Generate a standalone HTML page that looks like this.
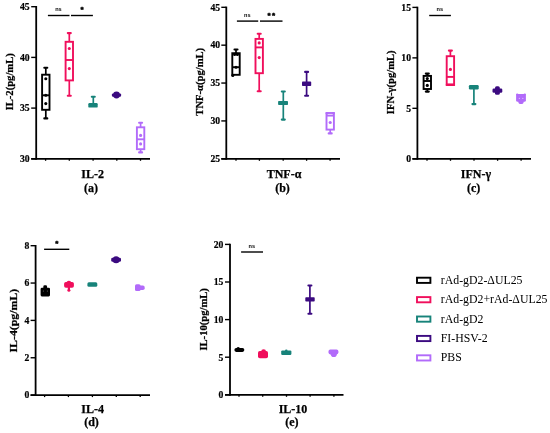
<!DOCTYPE html>
<html><head><meta charset="utf-8"><title>Figure</title>
<style>
html,body{margin:0;padding:0;background:#fff;}
body{width:550px;height:433px;overflow:hidden;}
svg{display:block;}
text{font-family:"Liberation Serif","DejaVu Serif",serif;fill:#000;}
.tk{font-size:9.7px;font-weight:bold;stroke:#000;stroke-width:.2px;}
.tt{font-size:12px;font-weight:bold;stroke:#000;stroke-width:.25px;}
.yl{font-size:10.6px;font-weight:bold;stroke:#000;stroke-width:.25px;}
.lg{font-size:11.8px;}
.ns{font-family:"Liberation Sans","DejaVu Sans",sans-serif;font-size:5.6px;font-weight:bold;}
.st{font-family:"Liberation Sans","DejaVu Sans",sans-serif;font-size:8px;font-weight:bold;stroke:#000;stroke-width:.5px;}
</style></head><body>
<svg width="550" height="433" viewBox="0 0 550 433">
<rect width="550" height="433" fill="#fff"/>
<g id="panel-a">
<line x1="36.2" y1="6" x2="36.2" y2="159.7" stroke="#000" stroke-width="1.8"/>
<line x1="31.2" y1="158.8" x2="150" y2="158.8" stroke="#000" stroke-width="1.8"/>
<line x1="31.2" y1="6.7" x2="36.2" y2="6.7" stroke="#000" stroke-width="1.4"/>
<text x="29.6" y="10" text-anchor="end" class="tk">45</text>
<line x1="31.2" y1="57.4" x2="36.2" y2="57.4" stroke="#000" stroke-width="1.4"/>
<text x="29.6" y="60.7" text-anchor="end" class="tk">40</text>
<line x1="31.2" y1="108.1" x2="36.2" y2="108.1" stroke="#000" stroke-width="1.4"/>
<text x="29.6" y="111.4" text-anchor="end" class="tk">35</text>
<line x1="31.2" y1="158.8" x2="36.2" y2="158.8" stroke="#000" stroke-width="1.4"/>
<text x="29.6" y="162.1" text-anchor="end" class="tk">30</text>
<line x1="45.6" y1="158.8" x2="45.6" y2="160.8" stroke="#000" stroke-width="1.3"/>
<line x1="69.3" y1="158.8" x2="69.3" y2="160.8" stroke="#000" stroke-width="1.3"/>
<line x1="93.1" y1="158.8" x2="93.1" y2="160.8" stroke="#000" stroke-width="1.3"/>
<line x1="116.8" y1="158.8" x2="116.8" y2="160.8" stroke="#000" stroke-width="1.3"/>
<line x1="140.5" y1="158.8" x2="140.5" y2="160.8" stroke="#000" stroke-width="1.3"/>
<text transform="translate(12.8,81.8) rotate(-90)" text-anchor="middle" class="yl">IL-2(pg/mL)</text>
<line x1="47.9" y1="15.5" x2="69.5" y2="15.5" stroke="#000" stroke-width="1.4"/>
<text x="58.4" y="11" text-anchor="middle" class="ns">ns</text>
<line x1="71" y1="15.5" x2="92.9" y2="15.5" stroke="#000" stroke-width="1.4"/>
<text x="81.95" y="11.9" text-anchor="middle" class="st">*</text>
<line x1="45.8" y1="67.8" x2="45.8" y2="74.7" stroke="#000000" stroke-width="1.7"/>
<line x1="44.3" y1="67.8" x2="47.3" y2="67.8" stroke="#000000" stroke-width="2.1" stroke-linecap="round"/>
<line x1="45.8" y1="109.8" x2="45.8" y2="118.4" stroke="#000000" stroke-width="1.7"/>
<line x1="44.3" y1="118.4" x2="47.3" y2="118.4" stroke="#000000" stroke-width="2.1" stroke-linecap="round"/>
<rect x="42.1" y="74.7" width="7.4" height="35.1" fill="#fff" stroke="#000000" stroke-width="1.9"/>
<line x1="42.1" y1="95.3" x2="49.5" y2="95.3" stroke="#000000" stroke-width="1.9"/>
<circle cx="45.8" cy="78.8" r="1.55" fill="#000000"/>
<circle cx="45.8" cy="95.3" r="1.55" fill="#000000"/>
<circle cx="45.8" cy="103.6" r="1.55" fill="#000000"/>
<line x1="69.3" y1="33.1" x2="69.3" y2="41.8" stroke="#F00F5C" stroke-width="1.7"/>
<line x1="67.8" y1="33.1" x2="70.8" y2="33.1" stroke="#F00F5C" stroke-width="2.1" stroke-linecap="round"/>
<line x1="69.3" y1="80.4" x2="69.3" y2="95.8" stroke="#F00F5C" stroke-width="1.7"/>
<line x1="67.8" y1="95.8" x2="70.8" y2="95.8" stroke="#F00F5C" stroke-width="2.1" stroke-linecap="round"/>
<rect x="65.6" y="41.8" width="7.4" height="38.6" fill="#fff" stroke="#F00F5C" stroke-width="1.9"/>
<line x1="65.6" y1="60" x2="73" y2="60" stroke="#F00F5C" stroke-width="1.9"/>
<circle cx="69.3" cy="48.5" r="1.55" fill="#F00F5C"/>
<circle cx="69.3" cy="68.6" r="1.55" fill="#F00F5C"/>
<line x1="93.3" y1="96.8" x2="93.3" y2="103.5" stroke="#17837A" stroke-width="1.7"/>
<line x1="91.8" y1="96.8" x2="94.8" y2="96.8" stroke="#17837A" stroke-width="2.1" stroke-linecap="round"/>
<rect x="88.3" y="103" width="9.4" height="4.6" rx="1.2" fill="#17837A"/>
<rect x="111.9" y="93.4" width="9.2" height="3.3" rx="1.2" fill="#3B0A80"/>
<circle cx="116.5" cy="95" r="3.4" fill="#3B0A80"/>
<line x1="140.6" y1="122.7" x2="140.6" y2="127.3" stroke="#B26BFA" stroke-width="1.7"/>
<line x1="139.1" y1="122.7" x2="142.1" y2="122.7" stroke="#B26BFA" stroke-width="2.1" stroke-linecap="round"/>
<line x1="140.6" y1="149.2" x2="140.6" y2="152.4" stroke="#B26BFA" stroke-width="1.7"/>
<line x1="139.1" y1="152.4" x2="142.1" y2="152.4" stroke="#B26BFA" stroke-width="2.1" stroke-linecap="round"/>
<rect x="136.9" y="127.3" width="7.4" height="21.9" fill="#fff" stroke="#B26BFA" stroke-width="1.9"/>
<line x1="136.9" y1="139.3" x2="144.3" y2="139.3" stroke="#B26BFA" stroke-width="1.9"/>
<circle cx="140.6" cy="135.4" r="1.55" fill="#B26BFA"/>
<circle cx="140.6" cy="143.9" r="1.55" fill="#B26BFA"/>
<text x="92.6" y="177.6" text-anchor="middle" class="tt">IL-2</text>
<text x="91" y="191.6" text-anchor="middle" class="tt">(a)</text>
</g>
<g id="panel-b">
<line x1="226.3" y1="6.6" x2="226.3" y2="159.7" stroke="#000" stroke-width="1.8"/>
<line x1="221.3" y1="158.8" x2="340" y2="158.8" stroke="#000" stroke-width="1.8"/>
<line x1="221.3" y1="7.3" x2="226.3" y2="7.3" stroke="#000" stroke-width="1.4"/>
<text x="220.2" y="10.6" text-anchor="end" class="tk">45</text>
<line x1="221.3" y1="45.17" x2="226.3" y2="45.17" stroke="#000" stroke-width="1.4"/>
<text x="220.2" y="48.47" text-anchor="end" class="tk">40</text>
<line x1="221.3" y1="83.05" x2="226.3" y2="83.05" stroke="#000" stroke-width="1.4"/>
<text x="220.2" y="86.35" text-anchor="end" class="tk">35</text>
<line x1="221.3" y1="120.92" x2="226.3" y2="120.92" stroke="#000" stroke-width="1.4"/>
<text x="220.2" y="124.22" text-anchor="end" class="tk">30</text>
<line x1="221.3" y1="158.8" x2="226.3" y2="158.8" stroke="#000" stroke-width="1.4"/>
<text x="220.2" y="162.1" text-anchor="end" class="tk">25</text>
<line x1="236" y1="158.8" x2="236" y2="160.8" stroke="#000" stroke-width="1.3"/>
<line x1="259.4" y1="158.8" x2="259.4" y2="160.8" stroke="#000" stroke-width="1.3"/>
<line x1="283.2" y1="158.8" x2="283.2" y2="160.8" stroke="#000" stroke-width="1.3"/>
<line x1="306.6" y1="158.8" x2="306.6" y2="160.8" stroke="#000" stroke-width="1.3"/>
<line x1="330.1" y1="158.8" x2="330.1" y2="160.8" stroke="#000" stroke-width="1.3"/>
<text transform="translate(203,81.8) rotate(-90)" text-anchor="middle" class="yl">TNF-α(pg/mL)</text>
<line x1="236.9" y1="21.1" x2="258.2" y2="21.1" stroke="#000" stroke-width="1.4"/>
<text x="247.25" y="16.6" text-anchor="middle" class="ns">ns</text>
<line x1="260" y1="21.1" x2="282.5" y2="21.1" stroke="#000" stroke-width="1.4"/>
<text x="272.05" y="18.1" text-anchor="middle" class="st" style="letter-spacing:1.5px">**</text>
<line x1="236" y1="49.5" x2="236" y2="53.2" stroke="#000000" stroke-width="1.7"/>
<line x1="234.5" y1="49.5" x2="237.5" y2="49.5" stroke="#000000" stroke-width="2.1" stroke-linecap="round"/>
<rect x="232.3" y="53.2" width="7.4" height="21.6" fill="#fff" stroke="#000000" stroke-width="1.9"/>
<line x1="232.3" y1="67.2" x2="239.7" y2="67.2" stroke="#000000" stroke-width="1.9"/>
<circle cx="234.6" cy="54.4" r="1.55" fill="#000000"/>
<circle cx="237.4" cy="54.4" r="1.55" fill="#000000"/>
<circle cx="236" cy="67.2" r="1.55" fill="#000000"/>
<circle cx="232.8" cy="75.4" r="1.55" fill="#000000"/>
<line x1="259.2" y1="33.7" x2="259.2" y2="38.9" stroke="#F00F5C" stroke-width="1.7"/>
<line x1="257.7" y1="33.7" x2="260.7" y2="33.7" stroke="#F00F5C" stroke-width="2.1" stroke-linecap="round"/>
<line x1="259.2" y1="73.2" x2="259.2" y2="91.2" stroke="#F00F5C" stroke-width="1.7"/>
<line x1="257.7" y1="91.2" x2="260.7" y2="91.2" stroke="#F00F5C" stroke-width="2.1" stroke-linecap="round"/>
<rect x="255.5" y="38.9" width="7.4" height="34.3" fill="#fff" stroke="#F00F5C" stroke-width="1.9"/>
<line x1="255.5" y1="47.4" x2="262.9" y2="47.4" stroke="#F00F5C" stroke-width="1.9"/>
<circle cx="259.2" cy="42.9" r="1.55" fill="#F00F5C"/>
<circle cx="259.2" cy="57.6" r="1.55" fill="#F00F5C"/>
<line x1="283.3" y1="91.5" x2="283.3" y2="119.6" stroke="#17837A" stroke-width="1.7"/>
<line x1="281.8" y1="91.5" x2="284.8" y2="91.5" stroke="#17837A" stroke-width="2.1" stroke-linecap="round"/>
<line x1="281.8" y1="119.6" x2="284.8" y2="119.6" stroke="#17837A" stroke-width="2.1" stroke-linecap="round"/>
<rect x="278.1" y="101" width="9.9" height="4.1" rx="0.8" fill="#17837A"/>
<line x1="306.6" y1="71.9" x2="306.6" y2="95.8" stroke="#3B0A80" stroke-width="1.7"/>
<line x1="305.1" y1="71.9" x2="308.1" y2="71.9" stroke="#3B0A80" stroke-width="2.1" stroke-linecap="round"/>
<line x1="305.1" y1="95.8" x2="308.1" y2="95.8" stroke="#3B0A80" stroke-width="2.1" stroke-linecap="round"/>
<rect x="302" y="81.6" width="9.2" height="4.4" rx="0.8" fill="#3B0A80"/>
<line x1="330.2" y1="129.6" x2="330.2" y2="133.4" stroke="#B26BFA" stroke-width="1.7"/>
<line x1="328.7" y1="133.4" x2="331.7" y2="133.4" stroke="#B26BFA" stroke-width="2.1" stroke-linecap="round"/>
<rect x="326.5" y="113" width="7.4" height="16.6" fill="#fff" stroke="#B26BFA" stroke-width="1.9"/>
<line x1="326.5" y1="115.6" x2="333.9" y2="115.6" stroke="#B26BFA" stroke-width="1.9"/>
<circle cx="330.2" cy="122.5" r="1.55" fill="#B26BFA"/>
<circle cx="327" cy="113.2" r="1.3" fill="#B26BFA"/>
<circle cx="333.4" cy="113.2" r="1.3" fill="#B26BFA"/>
<text x="284" y="177.6" text-anchor="middle" class="tt">TNF-α</text>
<text x="282.5" y="191.6" text-anchor="middle" class="tt">(b)</text>
</g>
<g id="panel-c">
<line x1="417.4" y1="6.7" x2="417.4" y2="159.7" stroke="#000" stroke-width="1.8"/>
<line x1="412.4" y1="158.8" x2="531" y2="158.8" stroke="#000" stroke-width="1.8"/>
<line x1="412.4" y1="7.4" x2="417.4" y2="7.4" stroke="#000" stroke-width="1.4"/>
<text x="411" y="10.7" text-anchor="end" class="tk">15</text>
<line x1="412.4" y1="57.87" x2="417.4" y2="57.87" stroke="#000" stroke-width="1.4"/>
<text x="411" y="61.17" text-anchor="end" class="tk">10</text>
<line x1="412.4" y1="108.33" x2="417.4" y2="108.33" stroke="#000" stroke-width="1.4"/>
<text x="411" y="111.63" text-anchor="end" class="tk">5</text>
<line x1="412.4" y1="158.8" x2="417.4" y2="158.8" stroke="#000" stroke-width="1.4"/>
<text x="411" y="162.1" text-anchor="end" class="tk">0</text>
<line x1="427" y1="158.8" x2="427" y2="160.8" stroke="#000" stroke-width="1.3"/>
<line x1="450.5" y1="158.8" x2="450.5" y2="160.8" stroke="#000" stroke-width="1.3"/>
<line x1="474" y1="158.8" x2="474" y2="160.8" stroke="#000" stroke-width="1.3"/>
<line x1="497.6" y1="158.8" x2="497.6" y2="160.8" stroke="#000" stroke-width="1.3"/>
<line x1="521.1" y1="158.8" x2="521.1" y2="160.8" stroke="#000" stroke-width="1.3"/>
<text transform="translate(394,82.3) rotate(-90)" text-anchor="middle" class="yl">IFN-γ(pg/mL)</text>
<line x1="429.2" y1="15.5" x2="450.9" y2="15.5" stroke="#000" stroke-width="1.4"/>
<text x="439.75" y="11" text-anchor="middle" class="ns">ns</text>
<line x1="427.3" y1="73.6" x2="427.3" y2="75.9" stroke="#000000" stroke-width="1.7"/>
<line x1="425.8" y1="73.6" x2="428.8" y2="73.6" stroke="#000000" stroke-width="2.1" stroke-linecap="round"/>
<line x1="427.3" y1="89" x2="427.3" y2="91.6" stroke="#000000" stroke-width="1.7"/>
<line x1="425.8" y1="91.6" x2="428.8" y2="91.6" stroke="#000000" stroke-width="2.1" stroke-linecap="round"/>
<rect x="423.6" y="75.9" width="7.4" height="13.1" fill="#fff" stroke="#000000" stroke-width="1.9"/>
<line x1="423.6" y1="81" x2="431" y2="81" stroke="#000000" stroke-width="1.9"/>
<circle cx="427.3" cy="78.6" r="1.55" fill="#000000"/>
<circle cx="427.3" cy="85.4" r="1.55" fill="#000000"/>
<line x1="450.4" y1="50.6" x2="450.4" y2="56.2" stroke="#F00F5C" stroke-width="1.7"/>
<line x1="448.9" y1="50.6" x2="451.9" y2="50.6" stroke="#F00F5C" stroke-width="2.1" stroke-linecap="round"/>
<rect x="446.7" y="56.2" width="7.4" height="28.6" fill="#fff" stroke="#F00F5C" stroke-width="1.9"/>
<line x1="446.7" y1="76.9" x2="454.1" y2="76.9" stroke="#F00F5C" stroke-width="1.9"/>
<circle cx="450.4" cy="69.4" r="1.55" fill="#F00F5C"/>
<rect x="445.8" y="83.6" width="9.2" height="2.5" rx="0.8" fill="#F00F5C"/>
<line x1="473.9" y1="88" x2="473.9" y2="104.1" stroke="#17837A" stroke-width="1.7"/>
<line x1="472.4" y1="104.1" x2="475.4" y2="104.1" stroke="#17837A" stroke-width="2.1" stroke-linecap="round"/>
<rect x="468.9" y="85.1" width="9.8" height="4.3" rx="1.2" fill="#17837A"/>
<rect x="492.5" y="88.5" width="9.8" height="4.2" rx="1.3" fill="#3B0A80"/>
<rect x="495" y="86.2" width="4.8" height="8.6" rx="1.6" fill="#3B0A80"/>
<rect x="516.1" y="94" width="9.8" height="7.8" rx="1.6" fill="#B26BFA"/>
<circle cx="521" cy="101.4" r="2.7" fill="#B26BFA"/>
<circle cx="517.2" cy="94.6" r="1.2" fill="#B26BFA"/>
<circle cx="524.8" cy="94.6" r="1.2" fill="#B26BFA"/>
<circle cx="519.4" cy="98.4" r="0.7" fill="#D7B3FD"/>
<circle cx="522.8" cy="98.4" r="0.7" fill="#D7B3FD"/>
<text x="476" y="177.6" text-anchor="middle" class="tt">IFN-γ</text>
<text x="473.7" y="191.6" text-anchor="middle" class="tt">(c)</text>
</g>
<g id="panel-d">
<line x1="35.6" y1="245" x2="35.6" y2="396" stroke="#000" stroke-width="1.8"/>
<line x1="30.6" y1="395.1" x2="150" y2="395.1" stroke="#000" stroke-width="1.8"/>
<line x1="30.6" y1="245.7" x2="35.6" y2="245.7" stroke="#000" stroke-width="1.4"/>
<text x="29.4" y="249" text-anchor="end" class="tk">8</text>
<line x1="30.6" y1="283.05" x2="35.6" y2="283.05" stroke="#000" stroke-width="1.4"/>
<text x="29.4" y="286.35" text-anchor="end" class="tk">6</text>
<line x1="30.6" y1="320.4" x2="35.6" y2="320.4" stroke="#000" stroke-width="1.4"/>
<text x="29.4" y="323.7" text-anchor="end" class="tk">4</text>
<line x1="30.6" y1="357.75" x2="35.6" y2="357.75" stroke="#000" stroke-width="1.4"/>
<text x="29.4" y="361.05" text-anchor="end" class="tk">2</text>
<line x1="30.6" y1="395.1" x2="35.6" y2="395.1" stroke="#000" stroke-width="1.4"/>
<text x="29.4" y="398.4" text-anchor="end" class="tk">0</text>
<line x1="44.6" y1="395.1" x2="44.6" y2="397.1" stroke="#000" stroke-width="1.3"/>
<line x1="68.4" y1="395.1" x2="68.4" y2="397.1" stroke="#000" stroke-width="1.3"/>
<line x1="92.4" y1="395.1" x2="92.4" y2="397.1" stroke="#000" stroke-width="1.3"/>
<line x1="116.3" y1="395.1" x2="116.3" y2="397.1" stroke="#000" stroke-width="1.3"/>
<line x1="140.2" y1="395.1" x2="140.2" y2="397.1" stroke="#000" stroke-width="1.3"/>
<text transform="translate(16.5,320.7) rotate(-90) scale(1.115,1)" text-anchor="middle" class="yl">IL-4(pg/mL)</text>
<line x1="44.1" y1="249.3" x2="69.3" y2="249.3" stroke="#000" stroke-width="1.4"/>
<text x="56.7" y="245.9" text-anchor="middle" class="st">*</text>
<rect x="40.6" y="287.8" width="9.4" height="8.6" rx="1.3" fill="#000000"/>
<rect x="43.3" y="285.3" width="3.8" height="3.7" rx="1.4" fill="#000000"/>
<circle cx="43.4" cy="291" r="0.6" fill="#666"/>
<circle cx="47.4" cy="291" r="0.6" fill="#666"/>
<rect x="64.1" y="282" width="9.8" height="5.8" rx="1.8" fill="#F00F5C"/>
<circle cx="68.9" cy="283.2" r="2.5" fill="#F00F5C"/>
<rect x="67.8" y="286" width="2.2" height="4.4" rx="0.8" fill="#F00F5C"/>
<circle cx="68.9" cy="290.2" r="1.5" fill="#F00F5C"/>
<rect x="87.4" y="282.2" width="9.9" height="4.6" rx="1.5" fill="#17837A"/>
<rect x="111.2" y="257.7" width="9.8" height="4.1" rx="1.4" fill="#3B0A80"/>
<circle cx="116.1" cy="259.7" r="3.5" fill="#3B0A80"/>
<rect x="135" y="284.3" width="5.6" height="6.7" rx="1.6" fill="#B26BFA"/>
<rect x="136" y="285.6" width="8.7" height="4.4" rx="1.8" fill="#B26BFA"/>
<text x="92.6" y="412.7" text-anchor="middle" class="tt">IL-4</text>
<text x="91.5" y="426.3" text-anchor="middle" class="tt">(d)</text>
</g>
<g id="panel-e">
<line x1="230" y1="243.7" x2="230" y2="395.7" stroke="#000" stroke-width="1.8"/>
<line x1="225" y1="394.8" x2="343.5" y2="394.8" stroke="#000" stroke-width="1.8"/>
<line x1="225" y1="244.4" x2="230" y2="244.4" stroke="#000" stroke-width="1.4"/>
<text x="223.4" y="247.7" text-anchor="end" class="tk">20</text>
<line x1="225" y1="282" x2="230" y2="282" stroke="#000" stroke-width="1.4"/>
<text x="223.4" y="285.3" text-anchor="end" class="tk">15</text>
<line x1="225" y1="319.6" x2="230" y2="319.6" stroke="#000" stroke-width="1.4"/>
<text x="223.4" y="322.9" text-anchor="end" class="tk">10</text>
<line x1="225" y1="357.2" x2="230" y2="357.2" stroke="#000" stroke-width="1.4"/>
<text x="223.4" y="360.5" text-anchor="end" class="tk">5</text>
<line x1="225" y1="394.8" x2="230" y2="394.8" stroke="#000" stroke-width="1.4"/>
<text x="223.4" y="398.1" text-anchor="end" class="tk">0</text>
<line x1="239" y1="394.8" x2="239" y2="396.8" stroke="#000" stroke-width="1.3"/>
<line x1="262.7" y1="394.8" x2="262.7" y2="396.8" stroke="#000" stroke-width="1.3"/>
<line x1="286.5" y1="394.8" x2="286.5" y2="396.8" stroke="#000" stroke-width="1.3"/>
<line x1="310.1" y1="394.8" x2="310.1" y2="396.8" stroke="#000" stroke-width="1.3"/>
<line x1="333.9" y1="394.8" x2="333.9" y2="396.8" stroke="#000" stroke-width="1.3"/>
<text transform="translate(207.2,319.4) rotate(-90)" text-anchor="middle" class="yl">IL-10(pg/mL)</text>
<line x1="241.1" y1="252" x2="263" y2="252" stroke="#000" stroke-width="1.4"/>
<text x="251.75" y="247.6" text-anchor="middle" class="ns">ns</text>
<rect x="234.4" y="347.9" width="9.9" height="4" rx="1.8" fill="#000000"/>
<circle cx="238.2" cy="348.6" r="1.7" fill="#000000"/>
<rect x="258" y="351" width="10" height="7.3" rx="1.8" fill="#F00F5C"/>
<circle cx="263.6" cy="351.6" r="2.4" fill="#F00F5C"/>
<rect x="281.2" y="350.4" width="10.2" height="4.6" rx="1.2" fill="#17837A"/>
<circle cx="286.3" cy="350.9" r="1.3" fill="#17837A"/>
<line x1="309.9" y1="285.5" x2="309.9" y2="313.8" stroke="#3B0A80" stroke-width="1.7"/>
<line x1="308.4" y1="285.5" x2="311.4" y2="285.5" stroke="#3B0A80" stroke-width="2.1" stroke-linecap="round"/>
<line x1="308.4" y1="313.8" x2="311.4" y2="313.8" stroke="#3B0A80" stroke-width="2.1" stroke-linecap="round"/>
<rect x="305.3" y="297.2" width="9.4" height="4.3" rx="0.8" fill="#3B0A80"/>
<rect x="328.5" y="349.6" width="9.9" height="4.8" rx="1.8" fill="#B26BFA"/>
<circle cx="333.8" cy="353.9" r="3.1" fill="#B26BFA"/>
<text x="293" y="412.7" text-anchor="middle" class="tt">IL-10</text>
<text x="291.9" y="425.5" text-anchor="middle" class="tt">(e)</text>
</g>
<g id="legend">
<rect x="417" y="277.7" width="13.4" height="5.2" fill="#fff" stroke="#000000" stroke-width="1.9"/>
<text x="440.8" y="283.8" class="lg">rAd-gD2-ΔUL25</text>
<rect x="417" y="297.1" width="13.4" height="5.2" fill="#fff" stroke="#F00F5C" stroke-width="1.9"/>
<text x="440.8" y="303.2" class="lg">rAd-gD2+rAd-ΔUL25</text>
<rect x="417" y="316.5" width="13.4" height="5.2" fill="#fff" stroke="#17837A" stroke-width="1.9"/>
<text x="440.8" y="322.6" class="lg">rAd-gD2</text>
<rect x="417" y="335.9" width="13.4" height="5.2" fill="#fff" stroke="#3B0A80" stroke-width="1.9"/>
<text x="440.8" y="342" class="lg">FI-HSV-2</text>
<rect x="417" y="355.3" width="13.4" height="5.2" fill="#fff" stroke="#B26BFA" stroke-width="1.9"/>
<text x="440.8" y="361.4" class="lg">PBS</text>
</g>
</svg>
</body></html>
